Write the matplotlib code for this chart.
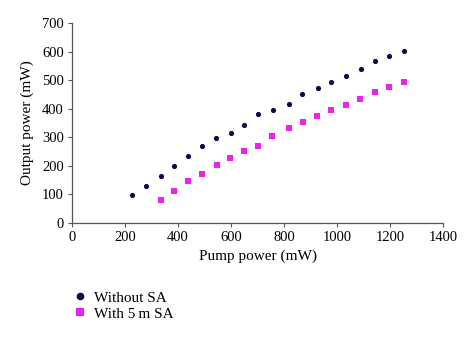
import matplotlib
matplotlib.use("Agg")
import matplotlib.pyplot as plt
from matplotlib.lines import Line2D

pump_without = [226, 280, 334, 385, 437, 491, 544, 599, 648, 702, 758, 819, 867, 927, 978, 1034, 1089, 1142, 1195, 1251]
out_without = [98, 131, 166, 201, 236, 268, 298, 314, 344, 382, 396, 416, 452, 474, 493, 513, 539, 566, 584, 602]
pump_with = [335, 385, 437, 491, 545, 596, 648, 702, 756, 819, 870, 924, 978, 1034, 1087, 1142, 1195, 1251]
out_with = [80, 113, 146, 173, 204, 228, 252, 271, 304, 332, 353, 374, 394, 414, 434, 458, 476, 493]
x_ticks = [0, 200, 400, 600, 800, 1000, 1200, 1400]
y_ticks = [0, 100, 200, 300, 400, 500, 600, 700]
labels = ["Without SA", "With 5\u2009m SA"]

plt.rcParams['font.family'] = ['Liberation Serif', 'DejaVu Serif']

fig = plt.figure(figsize=(4.74, 3.38), dpi=100)
ax = fig.add_axes([0.152, 0.340, 0.783, 0.592])
c1 = '#0a0a4a'
c2 = '#ee22ee'
ax.scatter(pump_without, out_without, s=14, marker='o', color=c1, linewidths=0, zorder=3)
ax.scatter(pump_with, out_with, s=16, marker='s', color=c2, linewidths=0, zorder=3)
ax.set_xlim(0, 1400)
ax.set_ylim(0, 700)
ax.set_xticks(x_ticks)
ax.set_yticks(y_ticks)
for s in ['top', 'right']:
    ax.spines[s].set_visible(False)
for s in ['left', 'bottom']:
    ax.spines[s].set_color('#555555')
    ax.spines[s].set_linewidth(0.9)
ax.tick_params(axis='both', direction='out', length=3, width=0.8, color='#555555', labelsize=10.5, pad=3)
ax.set_xlabel("Pump power (mW)", fontsize=11, labelpad=4)
ax.set_ylabel("Output power (mW)", fontsize=11, labelpad=6)

handles = [Line2D([], [], linestyle='none', marker='o', markersize=5.5, color=c1, markeredgewidth=0),
           Line2D([], [], linestyle='none', marker='s', markersize=5.5, color=c2, markeredgewidth=0)]
fig.legend(handles, labels, loc='upper left', bbox_to_anchor=(0.14, 0.157), frameon=False,
           fontsize=11, handlelength=1.0, handletextpad=0.4, labelspacing=0.15, borderaxespad=0)

fig.savefig("out.png", dpi=100)
